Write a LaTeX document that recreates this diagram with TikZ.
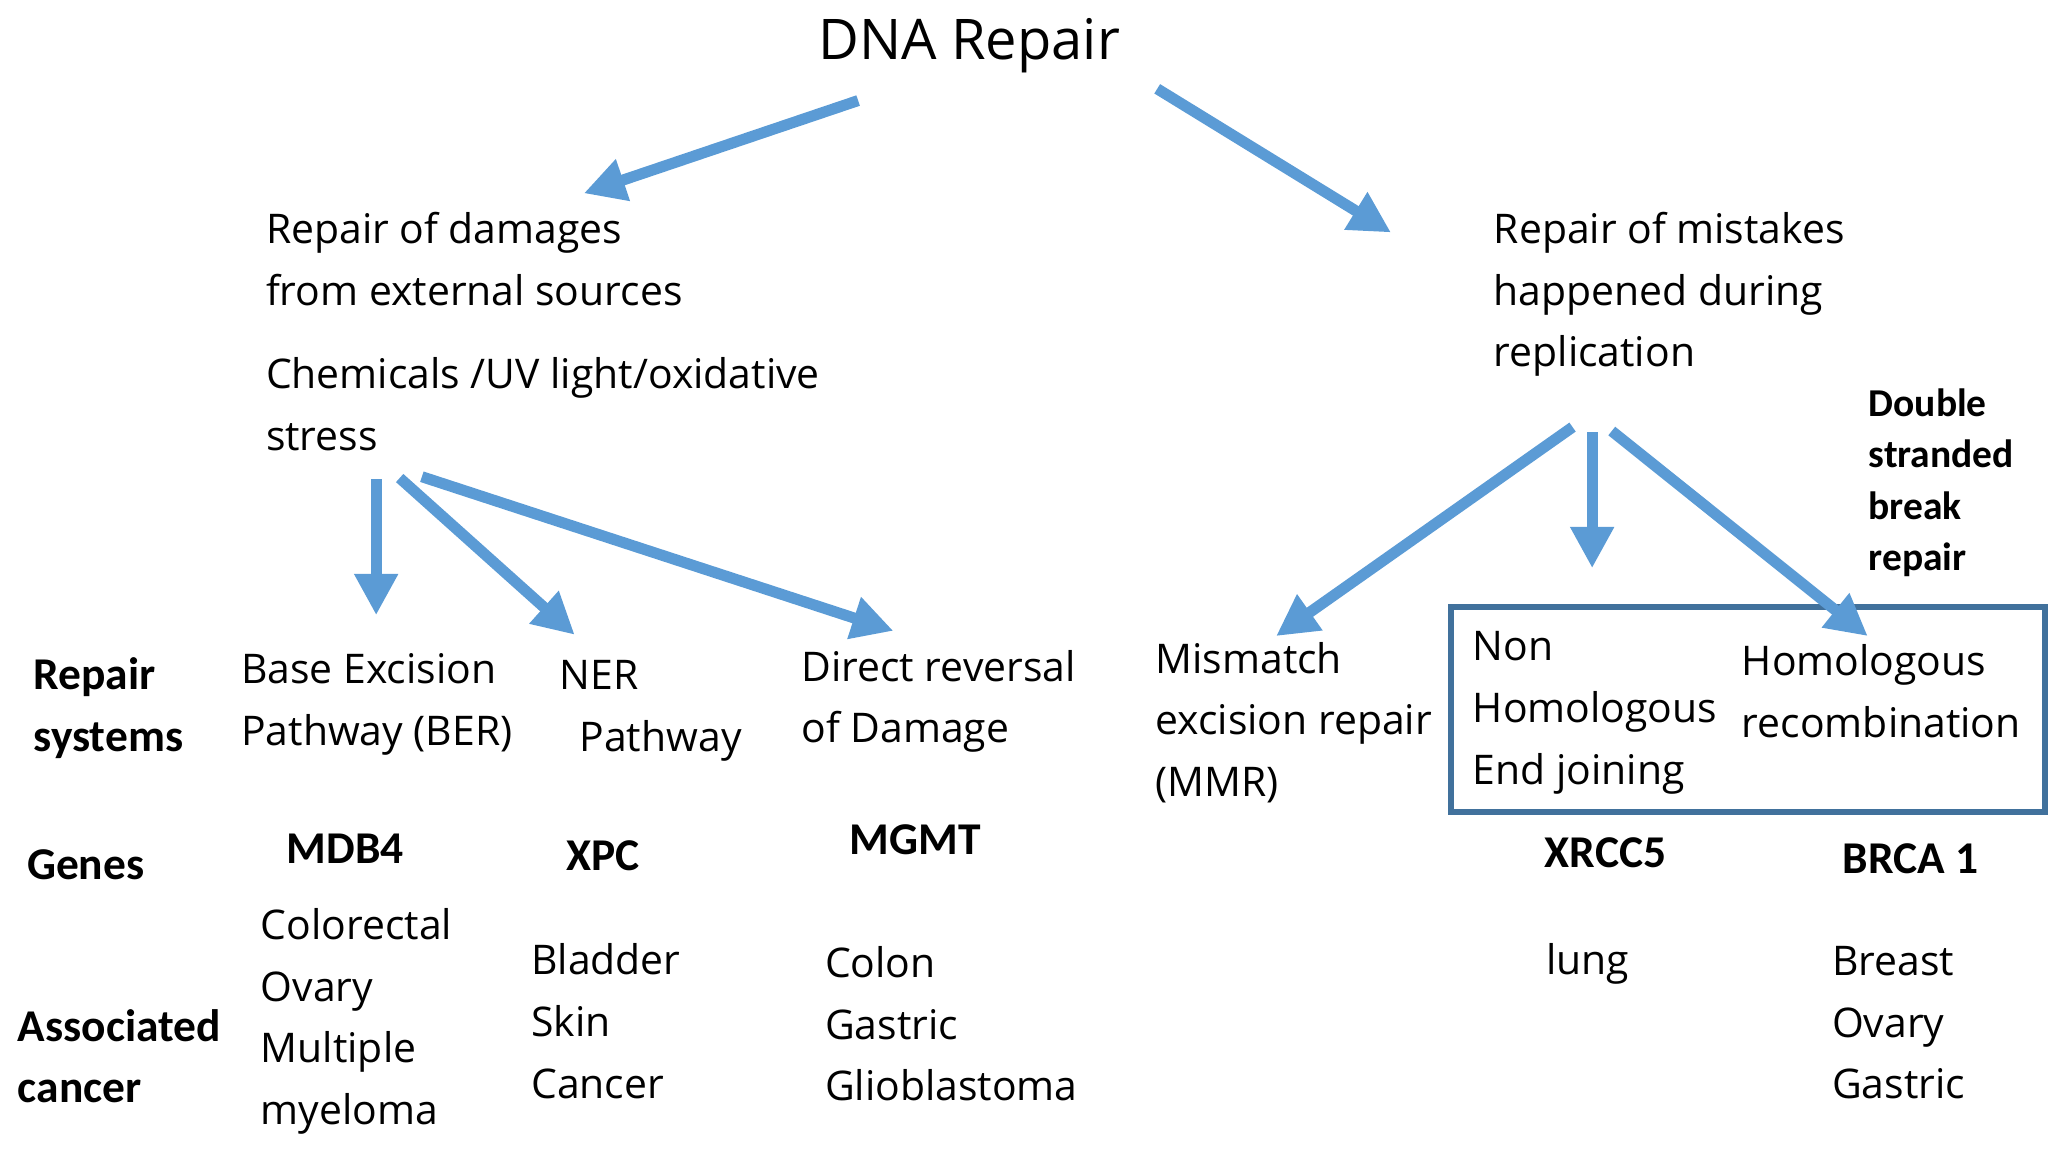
\documentclass[tikz,border=0pt]{standalone}
\usepackage{fontspec}
\setmainfont{Open Sans}
\newfontfamily\boldfam{Carlito}
\usetikzlibrary{arrows.meta}
\definecolor{arrowblue}{RGB}{91,155,213}
\definecolor{boxblue}{RGB}{65,113,156}
\tikzset{
  txt/.style={anchor=north west,inner sep=0pt,align=left,font=\fontsize{8.9}{13.4}\selectfont},
  hdr/.style={txt,font=\fontsize{9.9}{13.4}\boldfam\bfseries},
  blue arrow/.style={draw=arrowblue,line width=2.4pt,-{Triangle[length=9pt,width=9pt]}}
}
\begin{document}
\begin{tikzpicture}[x=0.01cm,y=-0.01cm]
\useasboundingbox (0,0) rectangle (1568,882);
% top
\node[inner sep=0pt,font=\fontsize{12.2}{16}\selectfont] (dna) at (742,35) {DNA Repair};
\node[txt] (ext) at (203,162) {Repair of damages\\from external sources};
\node[txt] (chem) at (203,273) {Chemicals /UV light/oxidative\\stress};
\node[txt] (mis) at (1143,162) {Repair of mistakes\\happened during\\replication};
\node[hdr,font=\fontsize{8.6}{11.2}\boldfam\bfseries] (dsb) at (1430,297) {Double\\stranded\\break\\repair};
% repair systems
\node[hdr] (sys) at (25,503) {Repair\\systems};
\node[txt] (ber) at (184,500) {Base Excision\\Pathway (BER)};
\node[txt] (ner) at (428,505) {NER\\\hspace{0.9ex}Pathway};
\node[txt] (drd) at (613,497) {Direct reversal\\of Damage};
\node[txt] (mmr) at (884,491) {Mismatch\\excision repair\\(MMR)};
\node[txt] (nhej) at (1127,483) {Non\\Homologous\\End joining};
\node[txt] (hr) at (1333,493) {Homologous\\recombination};
\draw[boxblue,line width=1.3pt] (1111,465) rectangle (1566,622);
% genes
\node[hdr] (genes) at (20,650) {Genes};
\node[hdr] (mdb) at (219,638) {MDB4};
\node[hdr] (xpc) at (433,643) {XPC};
\node[hdr] (mgmt) at (650,631) {MGMT};
\node[hdr] (xrcc) at (1182,641) {XRCC5};
\node[hdr] (brca) at (1410,645) {BRCA 1};
% cancers
\node[hdr] (assoc) at (13,772) {Associated\\cancer};
\node[txt] (c1) at (199,695) {Colorectal\\Ovary\\Multiple\\myeloma};
\node[txt] (c2) at (406,722) {Bladder\\Skin\\Cancer};
\node[txt] (c3) at (631,724) {Colon\\Gastric\\Glioblastoma};
\node[txt] (c4) at (1183,722) {lung};
\node[txt] (c5) at (1402,724) {Breast\\Ovary\\Gastric};
% arrow ends
\coordinate (a1s) at (657,77);   \coordinate (a1e) at (447,148);
\coordinate (a2s) at (886,68);   \coordinate (a2e) at (1065,178);
\coordinate (a3s) at (288,367);  \coordinate (a3e) at (288,471);
\coordinate (a4s) at (306,366);  \coordinate (a4e) at (440,486);
\coordinate (a5s) at (323,365);  \coordinate (a5e) at (684,483);
\coordinate (a6s) at (1204,327); \coordinate (a6e) at (977,487);
\coordinate (a7s) at (1219,331); \coordinate (a7e) at (1219,435);
\coordinate (a8s) at (1234,330); \coordinate (a8e) at (1430,487);
\foreach \i in {1,...,8}
  \draw[blue arrow] (a\i s) -- (a\i e);
\end{tikzpicture}
\end{document}
